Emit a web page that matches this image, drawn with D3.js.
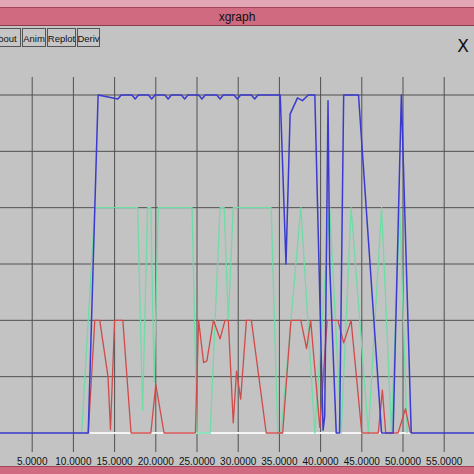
<!DOCTYPE html>
<html><head><meta charset="utf-8">
<script src="https://cdn.jsdelivr.net/npm/d3@7"></script>
<style>body{margin:0;background:#c3c3c3}svg{display:block}</style>
</head><body>
<script>
const xTicks=[0,5,10,15,20,25,30,35,40,45,50,55,60];
const xTickLabels=["0","5.0000","10.0000","15.0000","20.0000","25.0000","30.0000","35.0000","40.0000","45.0000","50.0000","55.0000","60"];
const yGrid=[1,2,3,4,5,6];
const buttons=["bout","Anim","Replot","Deriv"];
const whiteX=[12,51], whiteY=[0,0];
const blueX=[0,11.8,13,15.4,15.8,17.1,17.5,17.9,19.1,19.5,19.9,21.1,21.5,21.9,23.1,23.5,23.9,25.2,25.6,26,27.4,27.8,28.2,29.5,29.9,30.3,31.6,32,32.4,35.1,35.8,36.3,37.2,37.8,38.5,39.3,40.3,40.5,40.9,41.1,41.9,42.3,42.8,44.6,47.4,48.8,49.8,51,60];
const blueY=[0,0,6,5.93,6,6,5.93,6,6,5.93,6,6,5.93,6,6,5.93,6,6,5.93,6,6,5.93,6,6,5.93,6,6,5.93,6,6,3.0,5.66,5.95,5.9,6,6,0.05,0.3,5.9,3,0,0,6,6,0,0,6,0,0];
const greenX=[11,12.6,17.8,18.4,19,19.4,19.8,20.3,24.4,25,26.6,27.8,28.3,28.8,29.4,34,34.8,35.2,36.4,37.6,39.3,41.1,42.5,43.7,45.8,47.4,48.6,49.6,50.5];
const greenY=[0,4,4,0.4,4,4,0.9,4,4,0,0,4,4,2,4,4,0,0,2,4,0,4,0,4,0,4,0,4,0];
const redX=[11.8,12.6,13.2,14.2,14.5,15,16,17,19.4,20,21,24.8,25.2,25.8,26.2,27,27.8,28.4,28.8,29.4,29.8,30.3,31,31.6,33.4,35.4,36.4,37.6,38.3,38.8,39.9,40.8,42.1,42.8,43.7,45,47,47.5,47.9,49.4,50.3,50.9];
const redY=[0,2,2,1.0,0.06,2,2,0,0,0.86,0,0,2,1.25,1.28,2,1.67,2,2,0.18,1.1,0.6,2,2,0,0,2,2,1.5,2,0.1,2,2,1.6,2,0,0,0.76,0,0,0.43,0];

const W=474,H=474;
const svg=d3.select("body").append("svg").attr("width",W).attr("height",H);
svg.append("rect").attr("width",W).attr("height",H).attr("fill","#c3c3c3");
svg.append("rect").attr("x",0).attr("y",0).attr("width",W).attr("height",7).attr("fill","#e3a6b4");
svg.append("rect").attr("x",0).attr("y",7).attr("width",W).attr("height",19).attr("fill","#cf6a80");
svg.append("line").attr("x1",0).attr("x2",W).attr("y1",7.5).attr("y2",7.5).attr("stroke","#a04458");
svg.append("line").attr("x1",0).attr("x2",W).attr("y1",25.5).attr("y2",25.5).attr("stroke","#8a3a4c");
svg.append("text").attr("x",W/2).attr("y",21).attr("text-anchor","middle").attr("font-family","Liberation Sans,Arial,sans-serif").attr("font-size",12).attr("fill","#111").text("xgraph");
svg.append("rect").attr("x",0).attr("y",466).attr("width",W).attr("height",8).attr("fill","#d06a80");
svg.append("line").attr("x1",0).attr("x2",W).attr("y1",466.5).attr("y2",466.5).attr("stroke","#a04458");
const bx=[-6,22,47,77], bw=[26,23,28,22];
buttons.forEach((b,i)=>{
  svg.append("rect").attr("x",bx[i]+0.5).attr("y",28.5).attr("width",bw[i]).attr("height",18).attr("fill","#c6c6c6").attr("stroke","#555");
  svg.append("text").attr("x",bx[i]+bw[i]/2+0.5).attr("y",42).attr("text-anchor","middle").attr("font-family","Liberation Sans,Arial,sans-serif").attr("font-size",9.5).attr("fill","#111").text(b);
});
svg.append("text").attr("x",463).attr("y",52).attr("text-anchor","middle").attr("font-family","DejaVu Sans,sans-serif").attr("font-size",17).attr("fill","#111").text("X");

const x=d3.scaleLinear().domain([0,60]).range([-9,485.4]);
const y=d3.scaleLinear().domain([0,6]).range([433,95]);
svg.selectAll(".vg").data(xTicks).enter().append("line").attr("x1",d=>x(d)).attr("x2",d=>x(d)).attr("y1",77).attr("y2",452).attr("stroke","#505050").attr("stroke-width",1);
svg.selectAll(".hg").data(yGrid).enter().append("line").attr("x1",0).attr("x2",W).attr("y1",d=>y(d)).attr("y2",d=>y(d)).attr("stroke","#505050").attr("stroke-width",1);
svg.selectAll(".tl").data(xTicks).enter().append("text").attr("x",d=>x(d)).attr("y",465).attr("text-anchor","middle").attr("font-family","Liberation Sans Narrow,Liberation Sans,Arial,sans-serif").attr("font-size",10).attr("fill","#111").text((d,i)=>xTickLabels[i]);

const line=d3.line().x(d=>x(d[0])).y(d=>y(d[1]));
function draw(xs,ys,c,w){svg.append("path").attr("d",line(d3.zip(xs,ys))).attr("fill","none").attr("stroke",c).attr("stroke-width",w).attr("stroke-linejoin","round");}
draw(whiteX,whiteY,"#f4f4f4",2);
draw(greenX,greenY,"#6fdca6",1.3);
draw(redX,redY,"#d04a4a",1.3);
draw(blueX,blueY,"#3a3ad0",1.5);
</script>
</body></html>
